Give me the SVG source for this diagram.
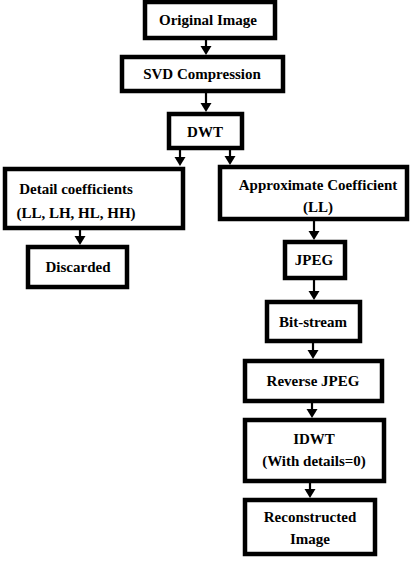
<svg xmlns="http://www.w3.org/2000/svg" width="415" height="564" viewBox="0 0 415 564">
<style>
.box{fill:#fff;stroke:#000;stroke-width:4.5}
.t{font-family:"Liberation Serif","Times New Roman",serif;font-weight:bold;font-size:15px;text-anchor:middle;fill:#000}
.c{stroke:#000;stroke-width:2.2;fill:none}
.h{fill:#000}
</style>
<rect width="415" height="564" fill="#fff"/>
<g id="connectors">
<line class="c" x1="206" y1="40" x2="206" y2="47"/><polygon class="h" points="200.5,46 211.5,46 206,55"/>
<line class="c" x1="206" y1="93" x2="206" y2="104"/><polygon class="h" points="200.5,103 211.5,103 206,112"/>
<line class="c" x1="180" y1="150" x2="180" y2="158"/><polygon class="h" points="174.5,157 185.5,157 180,166"/>
<line class="c" x1="230" y1="150" x2="230" y2="157"/><polygon class="h" points="224.5,156 235.5,156 230,165"/>
<line class="c" x1="80" y1="230" x2="80" y2="237"/><polygon class="h" points="74.5,236 85.5,236 80,245"/>
<line class="c" x1="314" y1="221" x2="314" y2="232"/><polygon class="h" points="308.5,231 319.5,231 314,240"/>
<line class="c" x1="314" y1="280" x2="314" y2="292"/><polygon class="h" points="308.5,291 319.5,291 314,300"/>
<line class="c" x1="313" y1="343" x2="313" y2="351"/><polygon class="h" points="307.5,350 318.5,350 313,359"/>
<line class="c" x1="312" y1="403" x2="312" y2="410"/><polygon class="h" points="306.5,409 317.5,409 312,418"/>
<line class="c" x1="310" y1="483" x2="310" y2="490"/><polygon class="h" points="304.5,489 315.5,489 310,498"/>
</g>
<g id="original"><rect class="box" x="145" y="2" width="130" height="36"/><text class="t" x="208" y="25">Original Image</text></g>
<g id="svd"><rect class="box" x="122" y="57" width="161" height="34"/><text class="t" x="202" y="79">SVD Compression</text></g>
<g id="dwt"><rect class="box" x="169" y="114" width="73" height="34"/><text class="t" x="205" y="137">DWT</text></g>
<g id="detail"><rect class="box" x="5" y="169" width="178" height="59"/><text class="t" x="76" y="194">Detail coefficients</text><text class="t" x="76" y="218">(LL, LH, HL, HH)</text></g>
<g id="approx"><rect class="box" x="220" y="167" width="187" height="52"/><text class="t" x="318" y="190">Approximate Coefficient</text><text class="t" x="318" y="212">(LL)</text></g>
<g id="discarded"><rect class="box" x="28" y="247" width="99" height="40"/><text class="t" x="78" y="272">Discarded</text></g>
<g id="jpeg"><rect class="box" x="285" y="242" width="60" height="36"/><text class="t" x="314" y="265">JPEG</text></g>
<g id="bitstream"><rect class="box" x="267" y="302" width="93" height="39"/><text class="t" x="313" y="327">Bit-stream</text></g>
<g id="reverse"><rect class="box" x="245" y="361" width="137" height="40"/><text class="t" x="313" y="386">Reverse JPEG</text></g>
<g id="idwt"><rect class="box" x="245" y="420" width="139" height="61"/><text class="t" x="314" y="444">IDWT</text><text class="t" x="314" y="466">(With details=0)</text></g>
<g id="reconstructed"><rect class="box" x="245" y="500" width="130" height="54"/><text class="t" x="310" y="522">Reconstructed</text><text class="t" x="310" y="544">Image</text></g>
</svg>
